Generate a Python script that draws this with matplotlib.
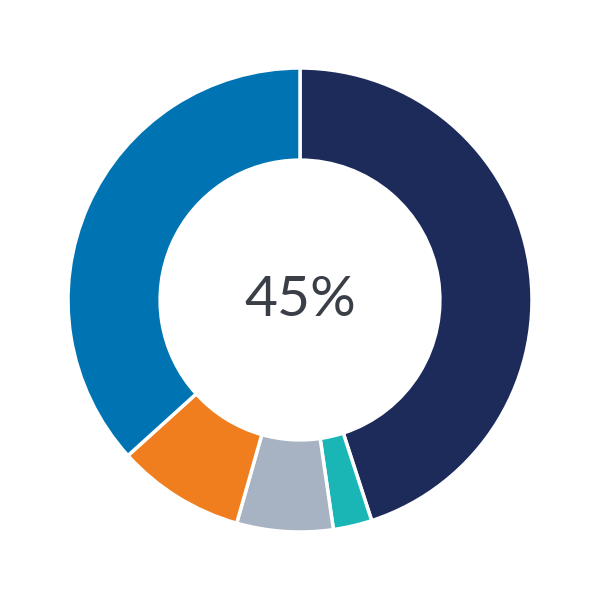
import matplotlib
matplotlib.use("Agg")
from matplotlib import pyplot as plt

labels = ["Navy", "Teal", "Gray", "Orange", "Blue"]
values = [45, 2.7, 6.7, 8.9, 36.7]
colors = ["#1c2b5a", "#1ab5b5", "#a7b3c3", "#f07e1e", "#0074b3"]
center_text = "45%"

fig = plt.figure(figsize=(6, 6), dpi=100)
ax = fig.add_axes([0, 0, 1, 1])
ax.pie(values, colors=colors, startangle=90, counterclock=False, radius=1,
       wedgeprops=dict(width=0.397, edgecolor="white", linewidth=2.5))
lim = 300 / 232
ax.set_xlim(-lim, lim)
ax.set_ylim(-lim, lim)
ax.set_aspect("equal")
ax.axis("off")
ax.text(0, 0, center_text, ha="center", va="center", fontsize=41,
        family="Lato", color="#3a3f47")

fig.savefig("out.png", dpi=100)
